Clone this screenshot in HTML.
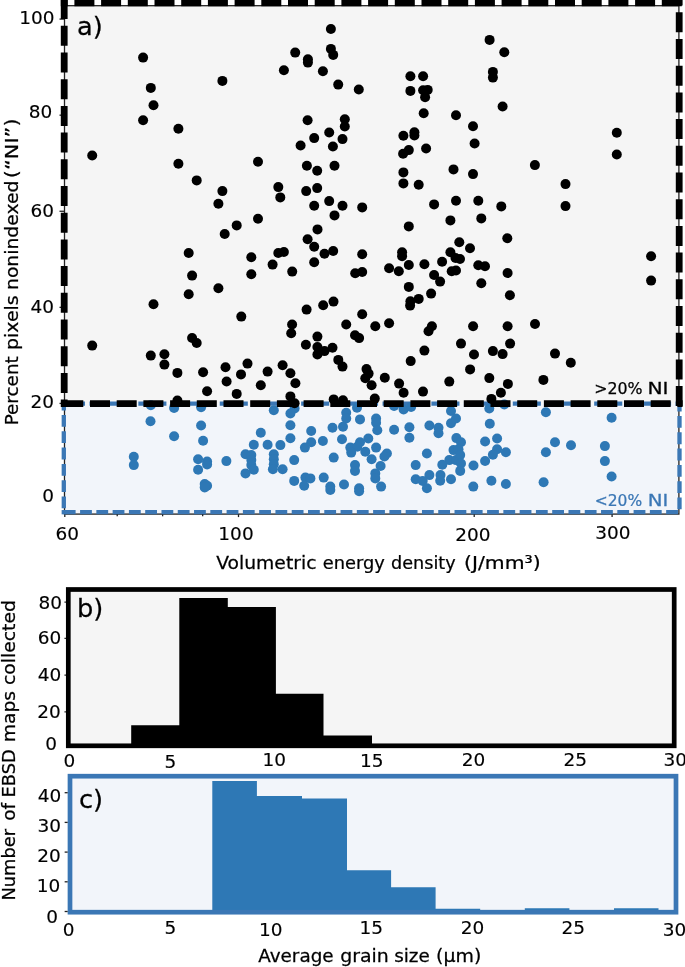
<!DOCTYPE html>
<html lang="en"><head><meta charset="utf-8"><title>Figure</title>
<style>html,body{margin:0;padding:0;background:#fff}body{width:685px;height:967px;overflow:hidden}svg{display:block}text{font-family:"DejaVu Sans","Liberation Sans",sans-serif;fill:#000;stroke:#000}</style></head><body>
<svg width="685" height="967" viewBox="0 0 685 967" stroke-width="0.25">
<rect x="0" y="0" width="685" height="967" fill="#fff"/>
<g id="panel-a">
<rect x="64.5" y="5.7" width="614.4" height="398" fill="#f5f5f5"/>
<rect x="64.5" y="403.7" width="614.4" height="110.4" fill="#f2f5fa"/>
<g stroke="#222" stroke-width="1.3" fill="none">
<rect x="64.5" y="5.7" width="614.4" height="508.4"/>
<line x1="59.5" y1="403.42" x2="64.5" y2="403.42"/>
<line x1="59.5" y1="307.34" x2="64.5" y2="307.34"/>
<line x1="59.5" y1="211.26" x2="64.5" y2="211.26"/>
<line x1="59.5" y1="115.18" x2="64.5" y2="115.18"/>
<line x1="59.5" y1="19.1" x2="64.5" y2="19.1"/>
<line x1="64.79" y1="514.1" x2="64.79" y2="517.1"/>
<line x1="238.5" y1="514.1" x2="238.5" y2="517.1"/>
<line x1="474.21" y1="514.1" x2="474.21" y2="517.1"/>
<line x1="612.09" y1="514.1" x2="612.09" y2="517.1"/>
<line x1="117.21" y1="514.1" x2="117.21" y2="516.3"/>
<line x1="162.62" y1="514.1" x2="162.62" y2="516.3"/>
<line x1="202.67" y1="514.1" x2="202.67" y2="516.3"/>
</g>
<g stroke="#3b77b5" stroke-width="4.3" fill="none">
<path d="M63.8 512.2H679.5V403.7H63.8Z" stroke-dasharray="11.8 4.48"/>
</g>
<g fill="#2e78b5">
<circle cx="150.8" cy="405.3" r="5"/>
<circle cx="174.1" cy="407.9" r="5"/>
<circle cx="201.1" cy="407.2" r="5"/>
<circle cx="150.5" cy="421.2" r="5"/>
<circle cx="174.1" cy="436.2" r="5"/>
<circle cx="201.1" cy="425.5" r="5"/>
<circle cx="203.1" cy="440.8" r="5"/>
<circle cx="133.8" cy="456.8" r="5"/>
<circle cx="133.8" cy="465.1" r="5"/>
<circle cx="198.1" cy="459.2" r="5"/>
<circle cx="207.1" cy="461.5" r="5"/>
<circle cx="207.1" cy="464.5" r="5"/>
<circle cx="198.1" cy="469.8" r="5"/>
<circle cx="226.4" cy="461.1" r="5"/>
<circle cx="204.7" cy="484.1" r="5"/>
<circle cx="207.1" cy="485.8" r="5"/>
<circle cx="204.7" cy="487.4" r="5"/>
<circle cx="273.8" cy="410.2" r="5"/>
<circle cx="294.6" cy="408.5" r="5"/>
<circle cx="290.4" cy="413.5" r="5"/>
<circle cx="290.4" cy="425.2" r="5"/>
<circle cx="260.8" cy="432.7" r="5"/>
<circle cx="311.2" cy="431" r="5"/>
<circle cx="332.5" cy="427.7" r="5"/>
<circle cx="343" cy="426.8" r="5"/>
<circle cx="290.4" cy="438.2" r="5"/>
<circle cx="322.9" cy="441" r="5"/>
<circle cx="311.2" cy="442.3" r="5"/>
<circle cx="342" cy="439.3" r="5"/>
<circle cx="253.8" cy="444.8" r="5"/>
<circle cx="267.6" cy="444.8" r="5"/>
<circle cx="280.4" cy="445.1" r="5"/>
<circle cx="304.9" cy="447.6" r="5"/>
<circle cx="245.5" cy="454.3" r="5"/>
<circle cx="251.3" cy="455.1" r="5"/>
<circle cx="273.8" cy="454.3" r="5"/>
<circle cx="251.3" cy="460.1" r="5"/>
<circle cx="273.8" cy="459.3" r="5"/>
<circle cx="294.2" cy="460.1" r="5"/>
<circle cx="333.7" cy="457.6" r="5"/>
<circle cx="251.3" cy="465.1" r="5"/>
<circle cx="273.8" cy="464.3" r="5"/>
<circle cx="253.8" cy="469.8" r="5"/>
<circle cx="272.9" cy="469.3" r="5"/>
<circle cx="282.6" cy="469.3" r="5"/>
<circle cx="245.5" cy="473.4" r="5"/>
<circle cx="305.4" cy="477.6" r="5"/>
<circle cx="310.4" cy="478.4" r="5"/>
<circle cx="323.7" cy="477.6" r="5"/>
<circle cx="294.2" cy="480.9" r="5"/>
<circle cx="304.2" cy="485.8" r="5"/>
<circle cx="330.3" cy="486.6" r="5"/>
<circle cx="330.3" cy="490" r="5"/>
<circle cx="344" cy="484.5" r="5"/>
<circle cx="357" cy="407.7" r="5"/>
<circle cx="394.1" cy="406" r="5"/>
<circle cx="403.6" cy="409.4" r="5"/>
<circle cx="411.1" cy="406.9" r="5"/>
<circle cx="451" cy="411" r="5"/>
<circle cx="346.2" cy="412.7" r="5"/>
<circle cx="346.2" cy="418.5" r="5"/>
<circle cx="360" cy="419.4" r="5"/>
<circle cx="376.1" cy="418.5" r="5"/>
<circle cx="376.1" cy="422.7" r="5"/>
<circle cx="377.3" cy="430.2" r="5"/>
<circle cx="394.1" cy="429.8" r="5"/>
<circle cx="409.4" cy="427.2" r="5"/>
<circle cx="429.4" cy="425.5" r="5"/>
<circle cx="438.5" cy="427.7" r="5"/>
<circle cx="451" cy="423.2" r="5"/>
<circle cx="456" cy="418.5" r="5"/>
<circle cx="438.5" cy="433.2" r="5"/>
<circle cx="409.4" cy="437.7" r="5"/>
<circle cx="368.3" cy="438.5" r="5"/>
<circle cx="360" cy="442.2" r="5"/>
<circle cx="456.4" cy="438.1" r="5"/>
<circle cx="350.3" cy="447.6" r="5"/>
<circle cx="357.3" cy="446.8" r="5"/>
<circle cx="376.1" cy="447.6" r="5"/>
<circle cx="351.2" cy="452.6" r="5"/>
<circle cx="365.3" cy="451.8" r="5"/>
<circle cx="386.9" cy="453.5" r="5"/>
<circle cx="384.4" cy="456.5" r="5"/>
<circle cx="426.9" cy="453.5" r="5"/>
<circle cx="453.5" cy="450.1" r="5"/>
<circle cx="371.6" cy="459.3" r="5"/>
<circle cx="449.3" cy="460.1" r="5"/>
<circle cx="355" cy="465.1" r="5"/>
<circle cx="380.6" cy="466" r="5"/>
<circle cx="415.7" cy="465.1" r="5"/>
<circle cx="442.3" cy="464.8" r="5"/>
<circle cx="456" cy="460.1" r="5"/>
<circle cx="355" cy="470.9" r="5"/>
<circle cx="375.3" cy="473.4" r="5"/>
<circle cx="429.4" cy="475.1" r="5"/>
<circle cx="440.5" cy="475.1" r="5"/>
<circle cx="375.3" cy="478.4" r="5"/>
<circle cx="415.7" cy="479.3" r="5"/>
<circle cx="422.7" cy="480.9" r="5"/>
<circle cx="440.2" cy="480.8" r="5"/>
<circle cx="451" cy="479.3" r="5"/>
<circle cx="359.1" cy="488.3" r="5"/>
<circle cx="359.1" cy="491.3" r="5"/>
<circle cx="381.1" cy="486.6" r="5"/>
<circle cx="426.9" cy="488.3" r="5"/>
<circle cx="489.3" cy="408.5" r="5"/>
<circle cx="504.3" cy="404.4" r="5"/>
<circle cx="545.9" cy="412.2" r="5"/>
<circle cx="489.8" cy="423.8" r="5"/>
<circle cx="497.1" cy="438.5" r="5"/>
<circle cx="485.1" cy="441.5" r="5"/>
<circle cx="555" cy="442.2" r="5"/>
<circle cx="571" cy="445.3" r="5"/>
<circle cx="497.1" cy="449.3" r="5"/>
<circle cx="505.9" cy="452.3" r="5"/>
<circle cx="545.9" cy="452.3" r="5"/>
<circle cx="492.9" cy="454.8" r="5"/>
<circle cx="485.1" cy="461" r="5"/>
<circle cx="473.5" cy="465.5" r="5"/>
<circle cx="461" cy="442.2" r="5"/>
<circle cx="458.5" cy="449.3" r="5"/>
<circle cx="460.2" cy="455.1" r="5"/>
<circle cx="461" cy="463.5" r="5"/>
<circle cx="460.2" cy="470.9" r="5"/>
<circle cx="491.4" cy="480.8" r="5"/>
<circle cx="505.9" cy="484" r="5"/>
<circle cx="543.6" cy="482.2" r="5"/>
<circle cx="473.3" cy="486.6" r="5"/>
<circle cx="611.6" cy="417.8" r="5"/>
<circle cx="604.9" cy="446.1" r="5"/>
<circle cx="604.9" cy="461.1" r="5"/>
<circle cx="611.6" cy="476.5" r="5"/>
</g>
<rect x="61.65" y="510.05" width="4.3" height="4.3" fill="#3b77b5"/>
<g stroke="#000" stroke-width="6.8" fill="none">
<line x1="60.8" y1="2.9" x2="682.6" y2="2.9" stroke-dasharray="20 6.7" stroke-dashoffset="-13.6"/>
<line x1="64.2" y1="-0.6" x2="64.2" y2="407.1" stroke-dasharray="20 6.7" stroke-dashoffset="-26.4"/>
<line x1="679.2" y1="-0.6" x2="679.2" y2="407.1" stroke-dasharray="20 6.7" stroke-dashoffset="-12.9"/>
<line x1="60.8" y1="403.7" x2="682.6" y2="403.7" stroke-dasharray="20 6.7" stroke-dashoffset="-2.5"/>
</g>
<g fill="#000">
<circle cx="143.1" cy="57.6" r="5"/>
<circle cx="150.8" cy="87.9" r="5"/>
<circle cx="153.5" cy="105.2" r="5"/>
<circle cx="143.1" cy="120.2" r="5"/>
<circle cx="178.4" cy="128.8" r="5"/>
<circle cx="92.2" cy="155.5" r="5"/>
<circle cx="178.4" cy="163.8" r="5"/>
<circle cx="196.7" cy="180.4" r="5"/>
<circle cx="222.4" cy="80.9" r="5"/>
<circle cx="222.4" cy="191.1" r="5"/>
<circle cx="218.4" cy="203.7" r="5"/>
<circle cx="224.7" cy="234" r="5"/>
<circle cx="188.7" cy="253" r="5"/>
<circle cx="192.1" cy="275.6" r="5"/>
<circle cx="218.4" cy="288.3" r="5"/>
<circle cx="188.7" cy="294.3" r="5"/>
<circle cx="153.5" cy="304.3" r="5"/>
<circle cx="330.9" cy="29" r="5"/>
<circle cx="330.9" cy="48.9" r="5"/>
<circle cx="333.2" cy="54.9" r="5"/>
<circle cx="295.2" cy="52.6" r="5"/>
<circle cx="307.9" cy="59.3" r="5"/>
<circle cx="307.9" cy="62.6" r="5"/>
<circle cx="283.9" cy="70.2" r="5"/>
<circle cx="322.9" cy="71.2" r="5"/>
<circle cx="338.2" cy="84.6" r="5"/>
<circle cx="358.8" cy="89.5" r="5"/>
<circle cx="410.4" cy="76.2" r="5"/>
<circle cx="423.1" cy="76.2" r="5"/>
<circle cx="410.4" cy="90.9" r="5"/>
<circle cx="423.1" cy="90.2" r="5"/>
<circle cx="427.7" cy="89.9" r="5"/>
<circle cx="425.1" cy="97.2" r="5"/>
<circle cx="423.7" cy="113.2" r="5"/>
<circle cx="456" cy="115.2" r="5"/>
<circle cx="307.6" cy="120.2" r="5"/>
<circle cx="344.8" cy="119.2" r="5"/>
<circle cx="344.8" cy="126.5" r="5"/>
<circle cx="329.2" cy="132.5" r="5"/>
<circle cx="314.2" cy="138.1" r="5"/>
<circle cx="342.5" cy="139.1" r="5"/>
<circle cx="300.6" cy="145.5" r="5"/>
<circle cx="332.9" cy="146.5" r="5"/>
<circle cx="403.4" cy="135.8" r="5"/>
<circle cx="414.4" cy="132.2" r="5"/>
<circle cx="414.4" cy="135.5" r="5"/>
<circle cx="408.8" cy="150.1" r="5"/>
<circle cx="403.1" cy="153.8" r="5"/>
<circle cx="426.1" cy="148.5" r="5"/>
<circle cx="258" cy="161.8" r="5"/>
<circle cx="306.9" cy="165.8" r="5"/>
<circle cx="317.2" cy="170.8" r="5"/>
<circle cx="334.5" cy="165.8" r="5"/>
<circle cx="403.4" cy="172.4" r="5"/>
<circle cx="453.5" cy="169.4" r="5"/>
<circle cx="403.4" cy="183.4" r="5"/>
<circle cx="418.7" cy="184.8" r="5"/>
<circle cx="278.3" cy="187.1" r="5"/>
<circle cx="280.3" cy="197.4" r="5"/>
<circle cx="317.2" cy="188.1" r="5"/>
<circle cx="306.2" cy="191.1" r="5"/>
<circle cx="329.2" cy="201.1" r="5"/>
<circle cx="314.2" cy="205.7" r="5"/>
<circle cx="342.5" cy="205.7" r="5"/>
<circle cx="362.2" cy="207.4" r="5"/>
<circle cx="334.5" cy="215.4" r="5"/>
<circle cx="434.1" cy="204.4" r="5"/>
<circle cx="456" cy="200.8" r="5"/>
<circle cx="258" cy="218.7" r="5"/>
<circle cx="236.7" cy="225.4" r="5"/>
<circle cx="317.5" cy="229.4" r="5"/>
<circle cx="408.8" cy="226.4" r="5"/>
<circle cx="450.4" cy="220.4" r="5"/>
<circle cx="307.6" cy="239.3" r="5"/>
<circle cx="314.2" cy="246.7" r="5"/>
<circle cx="283.9" cy="252" r="5"/>
<circle cx="278.3" cy="253" r="5"/>
<circle cx="324.5" cy="253.7" r="5"/>
<circle cx="333.2" cy="251" r="5"/>
<circle cx="362.2" cy="254.3" r="5"/>
<circle cx="251.3" cy="257.3" r="5"/>
<circle cx="272.6" cy="264.6" r="5"/>
<circle cx="314.2" cy="262.3" r="5"/>
<circle cx="402.1" cy="252.3" r="5"/>
<circle cx="402.1" cy="256.3" r="5"/>
<circle cx="408.8" cy="265" r="5"/>
<circle cx="424.4" cy="264.3" r="5"/>
<circle cx="442.1" cy="261.7" r="5"/>
<circle cx="450.4" cy="252.3" r="5"/>
<circle cx="455.5" cy="258" r="5"/>
<circle cx="459.3" cy="242.3" r="5"/>
<circle cx="251.3" cy="274.3" r="5"/>
<circle cx="292.2" cy="271.6" r="5"/>
<circle cx="355.2" cy="273.3" r="5"/>
<circle cx="362.2" cy="272" r="5"/>
<circle cx="389.1" cy="268.3" r="5"/>
<circle cx="398.8" cy="271.3" r="5"/>
<circle cx="434.1" cy="275" r="5"/>
<circle cx="440.1" cy="281.6" r="5"/>
<circle cx="451.7" cy="271.3" r="5"/>
<circle cx="456" cy="270.5" r="5"/>
<circle cx="408.8" cy="286.9" r="5"/>
<circle cx="431.1" cy="293.6" r="5"/>
<circle cx="418.7" cy="298.9" r="5"/>
<circle cx="410.4" cy="301.3" r="5"/>
<circle cx="410.1" cy="305.6" r="5"/>
<circle cx="333.5" cy="301.6" r="5"/>
<circle cx="323.2" cy="305.3" r="5"/>
<circle cx="306.6" cy="309.6" r="5"/>
<circle cx="362.2" cy="314.2" r="5"/>
<circle cx="241.3" cy="316.6" r="5"/>
<circle cx="489.6" cy="39.9" r="5"/>
<circle cx="504.3" cy="52.3" r="5"/>
<circle cx="492.9" cy="71.9" r="5"/>
<circle cx="492.9" cy="77.6" r="5"/>
<circle cx="502.6" cy="106.5" r="5"/>
<circle cx="473" cy="126.2" r="5"/>
<circle cx="474.6" cy="143.5" r="5"/>
<circle cx="616.8" cy="132.8" r="5"/>
<circle cx="616.8" cy="154.5" r="5"/>
<circle cx="534.9" cy="165.1" r="5"/>
<circle cx="473" cy="174.1" r="5"/>
<circle cx="565.5" cy="184.1" r="5"/>
<circle cx="565.5" cy="206.1" r="5"/>
<circle cx="478.3" cy="200.7" r="5"/>
<circle cx="501.3" cy="206.4" r="5"/>
<circle cx="481.3" cy="218.4" r="5"/>
<circle cx="507.3" cy="238.3" r="5"/>
<circle cx="470" cy="248.3" r="5"/>
<circle cx="460" cy="259" r="5"/>
<circle cx="478.3" cy="265.3" r="5"/>
<circle cx="485" cy="266.3" r="5"/>
<circle cx="507.6" cy="273" r="5"/>
<circle cx="481.3" cy="283.3" r="5"/>
<circle cx="509.9" cy="295.3" r="5"/>
<circle cx="651.1" cy="256.3" r="5"/>
<circle cx="651.1" cy="280.6" r="5"/>
<circle cx="92.2" cy="345.6" r="5"/>
<circle cx="150.8" cy="355.6" r="5"/>
<circle cx="164.4" cy="354.3" r="5"/>
<circle cx="164.4" cy="364.6" r="5"/>
<circle cx="177.4" cy="372.9" r="5"/>
<circle cx="192.1" cy="338" r="5"/>
<circle cx="196.7" cy="343" r="5"/>
<circle cx="203.1" cy="372.3" r="5"/>
<circle cx="207.1" cy="391.2" r="5"/>
<circle cx="225.5" cy="367.3" r="5"/>
<circle cx="226.6" cy="381.5" r="5"/>
<circle cx="177.4" cy="400.6" r="5"/>
<circle cx="292.1" cy="324.5" r="5"/>
<circle cx="291.2" cy="333.3" r="5"/>
<circle cx="317.4" cy="336.6" r="5"/>
<circle cx="305.9" cy="344.8" r="5"/>
<circle cx="317.4" cy="347" r="5"/>
<circle cx="332.5" cy="347.8" r="5"/>
<circle cx="324.5" cy="351.1" r="5"/>
<circle cx="317.4" cy="354.5" r="5"/>
<circle cx="338.3" cy="359.9" r="5"/>
<circle cx="342.5" cy="366.6" r="5"/>
<circle cx="247.5" cy="363.6" r="5"/>
<circle cx="282.6" cy="365.3" r="5"/>
<circle cx="267.6" cy="371.6" r="5"/>
<circle cx="241" cy="374.4" r="5"/>
<circle cx="290.4" cy="373.3" r="5"/>
<circle cx="295.4" cy="383.2" r="5"/>
<circle cx="260.8" cy="385.2" r="5"/>
<circle cx="236.7" cy="393.9" r="5"/>
<circle cx="290.4" cy="396.4" r="5"/>
<circle cx="294.6" cy="403.2" r="5"/>
<circle cx="333.7" cy="399.4" r="5"/>
<circle cx="343" cy="400.2" r="5"/>
<circle cx="346.2" cy="324.5" r="5"/>
<circle cx="375.3" cy="326.2" r="5"/>
<circle cx="389.1" cy="323.3" r="5"/>
<circle cx="431.9" cy="326.2" r="5"/>
<circle cx="428.5" cy="331.2" r="5"/>
<circle cx="355" cy="335.3" r="5"/>
<circle cx="359.1" cy="338.1" r="5"/>
<circle cx="424.4" cy="350.6" r="5"/>
<circle cx="410.7" cy="361.1" r="5"/>
<circle cx="366.5" cy="369.1" r="5"/>
<circle cx="368.6" cy="373.6" r="5"/>
<circle cx="365.3" cy="378.2" r="5"/>
<circle cx="384.8" cy="377.7" r="5"/>
<circle cx="371.6" cy="385.2" r="5"/>
<circle cx="399.1" cy="383.6" r="5"/>
<circle cx="449.3" cy="381.6" r="5"/>
<circle cx="403.6" cy="392.7" r="5"/>
<circle cx="423" cy="391.6" r="5"/>
<circle cx="374.8" cy="398.6" r="5"/>
<circle cx="473.1" cy="326.2" r="5"/>
<circle cx="507.6" cy="326.2" r="5"/>
<circle cx="535" cy="324" r="5"/>
<circle cx="461" cy="343.6" r="5"/>
<circle cx="510.1" cy="343.6" r="5"/>
<circle cx="474" cy="354.5" r="5"/>
<circle cx="492.9" cy="351.1" r="5"/>
<circle cx="502.6" cy="354.1" r="5"/>
<circle cx="555" cy="353.6" r="5"/>
<circle cx="570.8" cy="362.8" r="5"/>
<circle cx="470.1" cy="369.4" r="5"/>
<circle cx="489.3" cy="378.1" r="5"/>
<circle cx="543.4" cy="379.9" r="5"/>
<circle cx="507.9" cy="383.9" r="5"/>
<circle cx="500.9" cy="392.7" r="5"/>
<circle cx="491.4" cy="398.9" r="5"/>
</g>
<text transform="translate(54.6 24.39) scale(1.04 1)" font-size="17.8" text-anchor="end" stroke-width="0.15">100</text>
<text transform="translate(52.4 118.49) scale(1.04 1)" font-size="17.8" text-anchor="end" stroke-width="0.15">80</text>
<text transform="translate(54 216.99) scale(1.04 1)" font-size="17.8" text-anchor="end" stroke-width="0.15">60</text>
<text transform="translate(54 312.99) scale(1.04 1)" font-size="17.8" text-anchor="end" stroke-width="0.15">40</text>
<text transform="translate(54 408.49) scale(1.04 1)" font-size="17.8" text-anchor="end" stroke-width="0.15">20</text>
<text transform="translate(54 502.49) scale(1.04 1)" font-size="17.8" text-anchor="end" stroke-width="0.15">0</text>
<text transform="translate(67.2 539.89) scale(1.04 1)" font-size="17.8" text-anchor="middle" stroke-width="0.15">60</text>
<text transform="translate(236 539.89) scale(1.04 1)" font-size="17.8" text-anchor="middle" stroke-width="0.15">100</text>
<text transform="translate(472.8 540.59) scale(1.04 1)" font-size="17.8" text-anchor="middle" stroke-width="0.15">200</text>
<text transform="translate(612.8 539.19) scale(1.04 1)" font-size="17.8" text-anchor="middle" stroke-width="0.15">300</text>
<text transform="translate(216.2 568.9) scale(1.03 1)" font-size="18.2" text-anchor="start">Volumetric</text>
<text transform="translate(322.71 568.9) scale(0.98 1)" font-size="18.2" text-anchor="start">energy</text>
<text transform="translate(391.01 568.9) scale(0.97 1)" font-size="18.2" text-anchor="start">density</text>
<text transform="translate(463.97 568.9) scale(1.12 1)" font-size="18.2" text-anchor="start">(J/mm³)</text>
<text transform="translate(17.5 425.36) rotate(-90) scale(1.01 1)" font-size="18.2" text-anchor="start">Percent</text>
<text transform="translate(17.5 349.91) rotate(-90) scale(1.04 1)" font-size="18.2" text-anchor="start">pixels</text>
<text transform="translate(17.5 289.98) rotate(-90) scale(1.03 1)" font-size="18.2" text-anchor="start">nonindexed</text>
<text transform="translate(17.5 178.28) rotate(-90) scale(1.15 1)" font-size="18.2" text-anchor="start">(“NI”)</text>
<text transform="translate(77 35) scale(1.07 1)" font-size="24" text-anchor="start">a)</text>
<text transform="translate(594.23 393.7) scale(1 1)" font-size="15.8" text-anchor="start">&gt;20%</text>
<text transform="translate(647.39 393.7) scale(1.28 1)" font-size="15.8" text-anchor="start">NI</text>
<text transform="translate(594.75 505.9) scale(0.98 1)" font-size="15.8" text-anchor="start" style="fill:#3b77b5;stroke:#3b77b5">&lt;20%</text>
<text transform="translate(647.73 505.9) scale(1.25 1)" font-size="15.8" text-anchor="start" style="fill:#3b77b5;stroke:#3b77b5">NI</text>
</g>
<g id="panel-b">
<rect x="68.3" y="589.5" width="605.9" height="156.3" fill="#f5f5f5"/>
<path d="M131.2 745.8V725.2H179.3V598H227.8V607.1H275.9V693.7H323.5V735.5H372V745.8Z" fill="#000"/>
<rect x="68.3" y="589.5" width="605.9" height="156.3" fill="none" stroke="#000" stroke-width="4.7"/>
<g stroke="#222" stroke-width="1.3">
<line x1="64.45" y1="602.2" x2="65.95" y2="602.2"/>
<line x1="64.45" y1="638.4" x2="65.95" y2="638.4"/>
<line x1="64.45" y1="675.2" x2="65.95" y2="675.2"/>
<line x1="64.45" y1="711.9" x2="65.95" y2="711.9"/>
</g>
<text transform="translate(62 608.99) scale(1.04 1)" font-size="17.8" text-anchor="end" stroke-width="0.15">80</text>
<text transform="translate(61.3 643.79) scale(1.04 1)" font-size="17.8" text-anchor="end" stroke-width="0.15">60</text>
<text transform="translate(61.3 680.89) scale(1.04 1)" font-size="17.8" text-anchor="end" stroke-width="0.15">40</text>
<text transform="translate(60.9 717.69) scale(1.04 1)" font-size="17.8" text-anchor="end" stroke-width="0.15">20</text>
<text transform="translate(57 749.79) scale(1.04 1)" font-size="17.8" text-anchor="end" stroke-width="0.15">0</text>
<text transform="translate(69.3 766.59) scale(1.04 1)" font-size="17.8" text-anchor="middle" stroke-width="0.15">0</text>
<text transform="translate(170.4 767.69) scale(1.04 1)" font-size="17.8" text-anchor="middle" stroke-width="0.15">5</text>
<text transform="translate(274.2 766.09) scale(1.04 1)" font-size="17.8" text-anchor="middle" stroke-width="0.15">10</text>
<text transform="translate(371.8 766.89) scale(1.04 1)" font-size="17.8" text-anchor="middle" stroke-width="0.15">15</text>
<text transform="translate(473.4 766.39) scale(1.04 1)" font-size="17.8" text-anchor="middle" stroke-width="0.15">20</text>
<text transform="translate(575.3 766.39) scale(1.04 1)" font-size="17.8" text-anchor="middle" stroke-width="0.15">25</text>
<text transform="translate(675.3 766.49) scale(1.04 1)" font-size="17.8" text-anchor="middle" stroke-width="0.15">30</text>
<text transform="translate(77 616.8) scale(1.07 1)" font-size="24" text-anchor="start">b)</text>
</g>
<g id="panel-c">
<rect x="70" y="776.2" width="606" height="136" fill="#f2f5fa"/>
<path d="M212.3 912.2V781H256.9V796H302V798.5H347V870.2H391.1V887.2H435.6V908.7H480.2V912.2ZM524.8 912.2V908.3H569.4V912.2ZM614 912.2V908.3H658.5V912.2Z" fill="#2e78b5"/>
<rect x="70" y="776.2" width="606" height="136" fill="none" stroke="#3b77b5" stroke-width="4.7"/>
<g stroke="#222" stroke-width="1.3">
<line x1="64.65" y1="792.7" x2="67.65" y2="792.7"/>
<line x1="64.65" y1="822.4" x2="67.65" y2="822.4"/>
<line x1="64.65" y1="852.1" x2="67.65" y2="852.1"/>
<line x1="64.65" y1="881.8" x2="67.65" y2="881.8"/>
<line x1="64.65" y1="911.5" x2="67.65" y2="911.5"/>
</g>
<text transform="translate(61.2 802.49) scale(1.04 1)" font-size="17.8" text-anchor="end" stroke-width="0.15">40</text>
<text transform="translate(61 832.39) scale(1.04 1)" font-size="17.8" text-anchor="end" stroke-width="0.15">30</text>
<text transform="translate(60.8 861.89) scale(1.04 1)" font-size="17.8" text-anchor="end" stroke-width="0.15">20</text>
<text transform="translate(60.2 892.19) scale(1.04 1)" font-size="17.8" text-anchor="end" stroke-width="0.15">10</text>
<text transform="translate(57.9 922.99) scale(1.04 1)" font-size="17.8" text-anchor="end" stroke-width="0.15">0</text>
<text transform="translate(68.7 935.59) scale(1.04 1)" font-size="17.8" text-anchor="middle" stroke-width="0.15">0</text>
<text transform="translate(170.4 934.19) scale(1.04 1)" font-size="17.8" text-anchor="middle" stroke-width="0.15">5</text>
<text transform="translate(270.8 936.39) scale(1.04 1)" font-size="17.8" text-anchor="middle" stroke-width="0.15">10</text>
<text transform="translate(371.3 934.49) scale(1.04 1)" font-size="17.8" text-anchor="middle" stroke-width="0.15">15</text>
<text transform="translate(472.6 934.19) scale(1.04 1)" font-size="17.8" text-anchor="middle" stroke-width="0.15">20</text>
<text transform="translate(573.3 934.49) scale(1.04 1)" font-size="17.8" text-anchor="middle" stroke-width="0.15">25</text>
<text transform="translate(674.5 935.79) scale(1.04 1)" font-size="17.8" text-anchor="middle" stroke-width="0.15">30</text>
<text transform="translate(79 808) scale(1.07 1)" font-size="24" text-anchor="start">c)</text>
<text transform="translate(258.2 962.4) scale(1.01 1)" font-size="18.2" text-anchor="start">Average</text>
<text transform="translate(340.25 962.4) scale(1.04 1)" font-size="18.2" text-anchor="start">grain</text>
<text transform="translate(394.18 962.4) scale(1.01 1)" font-size="18.2" text-anchor="start">size</text>
<text transform="translate(436.08 962.4) scale(1.04 1)" font-size="18.2" text-anchor="start">(µm)</text>
<text transform="translate(15.2 900.6) rotate(-90) scale(0.98 1)" font-size="18.2" text-anchor="start">Number</text>
<text transform="translate(15.2 820.83) rotate(-90) scale(1.02 1)" font-size="18.2" text-anchor="start">of</text>
<text transform="translate(15.2 797.41) rotate(-90) scale(0.98 1)" font-size="18.2" text-anchor="start">EBSD</text>
<text transform="translate(15.2 742.29) rotate(-90) scale(1.03 1)" font-size="18.2" text-anchor="start">maps</text>
<text transform="translate(15.2 684.94) rotate(-90) scale(1.03 1)" font-size="18.2" text-anchor="start">collected</text>
</g>
</svg></body></html>
